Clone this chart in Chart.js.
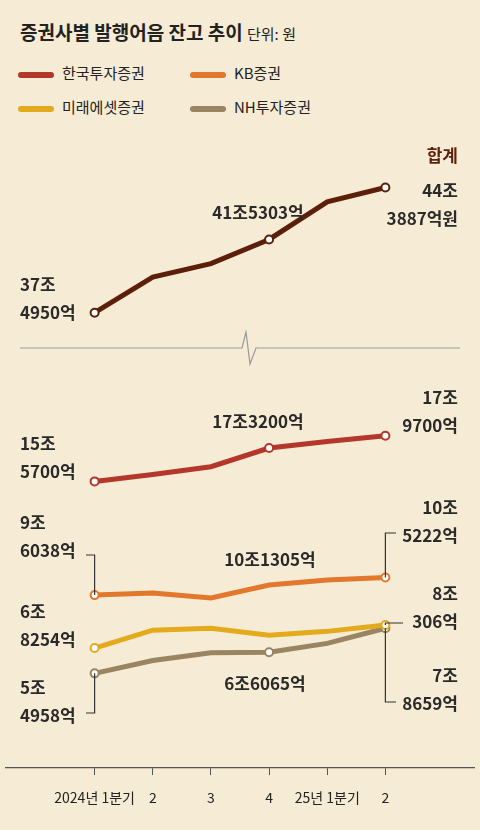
<!DOCTYPE html>
<html><head><meta charset="utf-8">
<script src="https://cdn.jsdelivr.net/npm/chart.js"></script>
<style>
body{margin:0;background:#f6ecd5;font-family:"Noto Sans CJK KR",sans-serif;}
#wrap{position:relative;width:480px;height:830px;overflow:hidden;}
.t{position:absolute;left:20px;top:18px;font-size:19px;font-weight:bold;color:#222;}
.t span{font-size:15px;font-weight:normal;}
.lg{position:absolute;font-size:15px;color:#222;}
.lg i{display:inline-block;width:36px;height:6px;border-radius:3px;vertical-align:middle;margin-right:8px;}
canvas{position:absolute;left:0;}
</style></head><body>
<div id="wrap">
<div class="t">증권사별 발행어음 잔고 추이 <span>단위: 원</span></div>
<div id="legend"></div>
<canvas id="top" style="top:130px" width="480" height="200"></canvas>
<canvas id="bot" style="top:330px" width="480" height="500"></canvas>
</div>
<script>
var quarters = ["2024년 1분기", "2", "3", "4", "25년 1분기", "2"];
var seriesNames = ["한국투자증권", "KB증권", "미래에셋증권", "NH투자증권"];
var colors = ["#b3372a", "#e2772e", "#e2aa1c", "#9a8462"];
var total = [37.495, 39.46, 40.2, 41.5303, 43.6, 44.3887];
var kis = [15.57, 15.93, 16.34, 17.32, 17.66, 17.97];
var kb = [9.6038, 9.71, 9.45, 10.1305, 10.4, 10.5222];
var mirae = [6.8254, 7.76, 7.86, 7.5, 7.7, 8.0306];
var nh = [5.4958, 6.17, 6.58, 6.6065, 7.07, 7.8659];

var lg = document.getElementById("legend");
seriesNames.forEach(function (n, i) {
  var d = document.createElement("div");
  d.className = "lg";
  d.style.left = (i % 2 ? 190 : 18) + "px";
  d.style.top = (i < 2 ? 62 : 96) + "px";
  d.innerHTML = '<i style="background:' + colors[i] + '"></i>' + n;
  lg.appendChild(d);
});

var FONT = { family: "'Noto Sans CJK KR', sans-serif", size: 17, weight: "bold" };
var XMIN = -1.524, XMAX = 6.524;
function pts(arr) { return arr.map(function (v, i) { return { x: i, y: v }; }); }
function ds(arr, color, radii) {
  return { data: pts(arr), borderColor: color, borderWidth: 5, pointRadius: radii,
    pointBackgroundColor: "#fff", pointBorderColor: color, pointBorderWidth: 2, clip: false };
}
// leader line: lead = [point index, page y of elbow, page x of end]
function labelPlugin(items, top) {
  return { id: "lbl", afterDatasetsDraw: function (c) {
    var ctx = c.ctx, sx = c.scales.x, sy = c.scales.y;
    ctx.save();
    ctx.font = "bold 17px 'Noto Sans CJK KR', sans-serif";
    ctx.textBaseline = "middle";
    items.forEach(function (it) {
      ctx.fillStyle = it.color || "#2a2a2a";
      ctx.textAlign = it.align;
      var px = it.px, py = sy.getPixelForValue(it.v) + it.dy;
      it.lines.forEach(function (t, k) { ctx.fillText(t, px, py + k * 28); });
      if (it.lead) {
        ctx.strokeStyle = "#333"; ctx.lineWidth = 1.2; ctx.beginPath();
        var p0 = sx.getPixelForValue(it.lead[0]);
        ctx.moveTo(p0, sy.getPixelForValue(it.v));
        ctx.lineTo(p0, it.lead[1] - top);
        ctx.lineTo(it.lead[2], it.lead[1] - top);
        ctx.stroke();
      }
    });
    if (c.canvas.id === "bot") {
      ctx.strokeStyle = "#999"; ctx.lineWidth = 1.2; ctx.beginPath();
      ctx.moveTo(20, 18); ctx.lineTo(242, 18); ctx.lineTo(246, 2); ctx.lineTo(250, 34);
      ctx.lineTo(256, 18); ctx.lineTo(460, 18); ctx.stroke();
    }
    ctx.restore();
  } };
}

new Chart(document.getElementById("top"), {
  type: "line",
  data: { datasets: [ds(total, "#5c1f0a", [4, 0, 0, 4, 0, 4])] },
  options: { responsive: false, animation: false, layout: { padding: 0 },
    plugins: { legend: { display: false }, tooltip: { enabled: false } },
    scales: { x: { type: "linear", min: XMIN, max: XMAX, display: false }, y: { min: 36.874, max: 47.226, display: false } } },
  plugins: [labelPlugin([
    { lines: ["37조", "4950억"], v: total[0], px: 20, dy: -28, align: "left" },
    { lines: ["41조5303억"], v: total[3], px: 258, dy: -27, align: "center" },
    { lines: ["합계"], v: total[5], px: 458, dy: -32, align: "right", color: "#5c1f0a" },
    { lines: ["44조", "3887억원"], v: total[5], px: 458, dy: 3, align: "right" }
  ], 130)]
});

new Chart(document.getElementById("bot"), {
  type: "line",
  data: { datasets: [
    ds(kis, colors[0], [4, 0, 0, 4, 0, 4]),
    ds(kb, colors[1], [4, 0, 0, 0, 0, 4]),
    ds(mirae, colors[2], [4, 0, 0, 0, 0, 4]),
    ds(nh, colors[3], [4, 0, 0, 4, 0, 4])
  ] },
  options: { responsive: false, animation: false, layout: { padding: 0 },
    plugins: { legend: { display: false }, tooltip: { enabled: false } },
    scales: {
      x: { type: "linear", min: XMIN, max: XMAX,
        afterBuildTicks: function (s) { s.ticks = quarters.map(function (_, i) { return { value: i }; }); },
        afterFit: function (s) { s.height = 62; },
        border: { display: true, color: "#555", width: 1.2 },
        grid: { drawOnChartArea: false, tickLength: 7, color: "#555" },
        ticks: { color: "#222", font: { family: FONT.family, size: 14 }, padding: 14, maxRotation: 0, autoSkip: false,
          callback: function (v) { return quarters[v]; } } },
      y: { min: 0.53, max: 23.2, display: false }
    } },
  plugins: [labelPlugin([
    { lines: ["15조", "5700억"], v: kis[0], px: 20, dy: -38, align: "left" },
    { lines: ["17조3200억"], v: kis[3], px: 258, dy: -27, align: "center" },
    { lines: ["17조", "9700억"], v: kis[5], px: 458, dy: -38, align: "right" },
    { lines: ["9조", "6038억"], v: kb[0], px: 20, dy: -73, align: "left", lead: [0, 555, 86] },
    { lines: ["10조1305억"], v: kb[3], px: 270, dy: -26, align: "center" },
    { lines: ["10조", "5222억"], v: kb[5], px: 458, dy: -70, align: "right", lead: [5, 533, 396] },
    { lines: ["6조", "8254억"], v: mirae[0], px: 20, dy: -36, align: "left" },
    { lines: ["8조", "306억"], v: mirae[5], px: 458, dy: -32, align: "right", lead: [5, 623, 403] },
    { lines: ["5조", "4958억"], v: nh[0], px: 20, dy: 14, align: "left", lead: [0, 713, 86] },
    { lines: ["6조6065억"], v: nh[3], px: 265, dy: 31, align: "center" },
    { lines: ["7조", "8659억"], v: nh[5], px: 458, dy: 47, align: "right", lead: [5, 702, 396] }
  ], 330)]
});
</script>
</body></html>
